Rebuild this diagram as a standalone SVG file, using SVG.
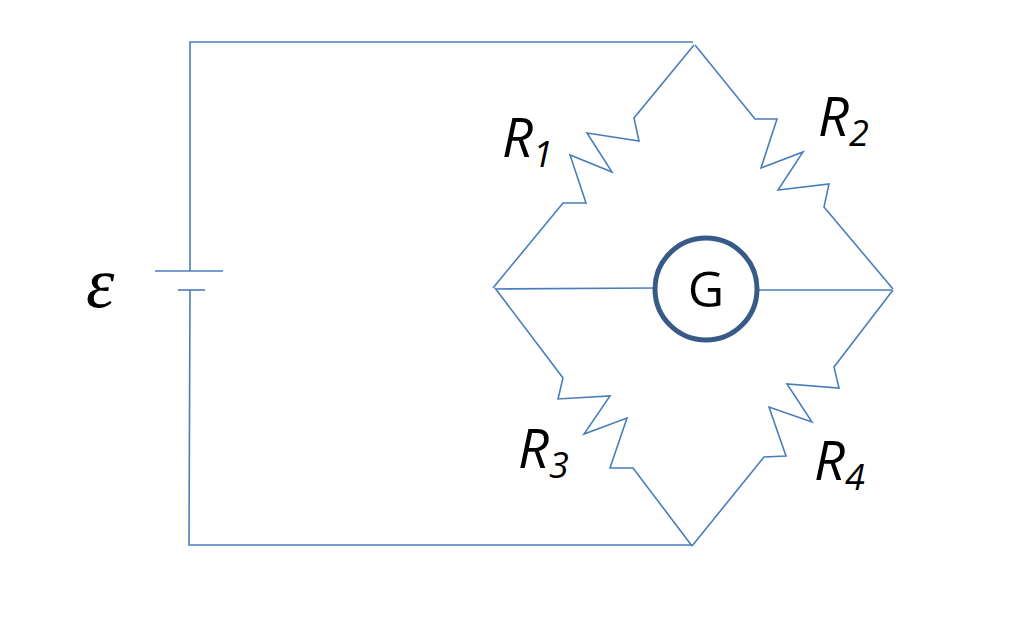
<svg xmlns="http://www.w3.org/2000/svg" width="1015" height="641" viewBox="0 0 1015 641">
<style>
.w{fill:none;stroke:#4a7ebb;stroke-width:1.6;stroke-linejoin:miter}
.l{font-family:"Open Sans","Liberation Sans",sans-serif;font-style:italic;font-size:54px;fill:#000}
.s{font-size:36px}
</style>
<rect width="1015" height="641" fill="#fff"/>
<g id="connectors">
<polyline class="w" points="693,42 190,42 190,271"/>
<polyline class="w" points="190,290 189,545 692,545"/>
<line class="w" x1="495" y1="289" x2="654" y2="288"/>
<line class="w" x1="758" y1="290" x2="892" y2="290"/>
</g>
<g id="battery">
<line class="w" x1="155" y1="271" x2="223" y2="271"/>
<line class="w" x1="178" y1="290" x2="205" y2="290"/>
<text x="86" y="307" style="font-family:'Liberation Serif',serif;font-style:italic;font-size:72px">ε</text>
</g>
<g id="R1"><polyline class="w" points="694,45 634,118 639,141 587,133 612,172 570,155 586,203 563,203 493,288"/>
<text class="l" x="502" y="157">R<tspan class="s" dy="10">1</tspan></text></g>
<g id="R2"><polyline class="w" points="695,45 755,119 777,119 761,168 803,152 778,190 829,184 824,207 893,289"/>
<text class="l" x="818" y="136">R<tspan class="s" dy="10">2</tspan></text></g>
<g id="R3"><polyline class="w" points="495,288 563,378 558,399 610,396 584,434 627,418 610,468 633,468 692,546"/>
<text class="l" x="518" y="468">R<tspan class="s" dy="10">3</tspan></text></g>
<g id="R4"><polyline class="w" points="893,290 834,367 839,388 787,384 812,422 769,407 786,456 764,457 692,546"/>
<text class="l" x="814" y="480">R<tspan class="s" dy="10">4</tspan></text></g>
<g id="G">
<circle cx="706" cy="289" r="51" fill="#fff" stroke="#375a87" stroke-width="5"/>
<text x="706" y="307" text-anchor="middle" style="font-family:'Open Sans','Liberation Sans',sans-serif;font-size:50px">G</text>
</g>
</svg>
